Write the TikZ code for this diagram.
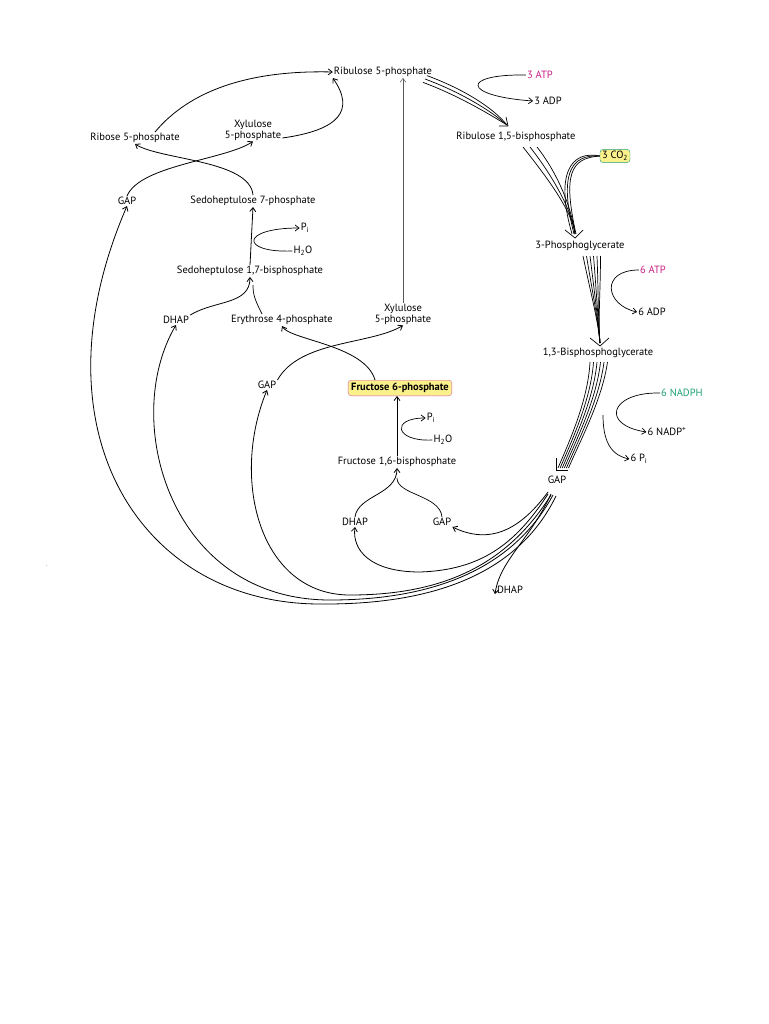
\documentclass[tikz,border=0pt]{standalone}
\usepackage{fontspec}
\setmainfont{PT Sans}
\usetikzlibrary{arrows.meta}
\definecolor{mag}{RGB}{200,30,130}
\definecolor{grn}{RGB}{30,160,120}
\definecolor{boxy}{RGB}{250,240,140}
\begin{document}
\begin{tikzpicture}[x=1pt,y=-1pt,
  lbl/.style={font=\fontsize{10.5}{11}\selectfont,inner sep=1pt,align=center},
  ar/.style={-{Straight Barb[length=4pt,width=6pt]},line width=0.8pt},
  ln/.style={line width=0.7pt},
  big/.style={line width=0.7pt}]
\useasboundingbox (0,0) rectangle (768,1024);
% labels
\node[lbl] (r5p) at (383,72) {Ribulose 5-phosphate};
\node[lbl,text=mag] (atp3) at (540,75) {3 ATP};
\node[lbl] (adp3) at (548,101) {3 ADP};
\node[lbl] (rbp) at (516,137) {Ribulose 1,5-bisphosphate};
\node[lbl,fill=boxy,draw=grn,rounded corners=3pt,inner sep=2pt] (co2) at (615,156) {3 CO\textsubscript{2}};
\node[lbl] (pga) at (580,246) {3-Phosphoglycerate};
\node[lbl,text=mag] (atp6) at (653,270) {6 ATP};
\node[lbl] (adp6) at (652,312) {6 ADP};
\node[lbl] (bpg) at (598,353) {1,3-Bisphosphoglycerate};
\node[lbl,text=grn] (nadph) at (682,393) {6 NADPH};
\node[lbl] (nadp) at (667,432) {6 NADP\textsuperscript{+}};
\node[lbl] (pi6) at (639,459) {6 P\textsubscript{i}};
\node[lbl] (gapR) at (557,480) {GAP};
\node[lbl] (dhapB) at (510,590) {DHAP};
\node[lbl] (rib5) at (135,138) {Ribose 5-phosphate};
\node[lbl] (xyl1) at (253,130) {Xylulose\\5-phosphate};
\node[lbl] (gap1) at (127,201) {GAP};
\node[lbl] (s7p) at (253,201) {Sedoheptulose 7-phosphate};
\node[lbl] (pi1) at (305,228) {P\textsubscript{i}};
\node[lbl] (h2o1) at (303,251) {H\textsubscript{2}O};
\node[lbl] (sbp) at (250,271) {Sedoheptulose 1,7-bisphosphate};
\node[lbl] (dhap1) at (176,320) {DHAP};
\node[lbl] (e4p) at (282,320) {Erythrose 4-phosphate};
\node[lbl] (xyl2) at (403,314) {Xylulose\\5-phosphate};
\node[lbl] (gap2) at (267,385) {GAP};
\node[lbl,fill=boxy,draw=mag!70,rounded corners=3pt,inner sep=3pt,font=\fontsize{10.5}{11}\bfseries] (f6p) at (400,388) {Fructose 6-phosphate};
\node[lbl] (pi2) at (431,418) {P\textsubscript{i}};
\node[lbl] (h2o2) at (443,440) {H\textsubscript{2}O};
\node[lbl] (fbp) at (397,462) {Fructose 1,6-bisphosphate};
\node[lbl] (dhap2) at (355,522) {DHAP};
\node[lbl] (gap3) at (442,522) {GAP};
\node[font=\tiny] (dot) at (47,566) {.};
% thin vertical
\draw[ar,line width=0.5pt,gray!70!black] (xyl2.north) -- (xyl2.north |- r5p.south);
% upper left
\draw[ar] (rib5.north) ++(20,0) .. controls (190,90) and (250,70) .. (r5p.west);
\draw[ar] (xyl1.east) ++(0,8) .. controls (340,130) and (355,110) .. (r5p.south west);
\draw[ar] (gap1.north) .. controls (140,165) and (225,160) .. (xyl1.south);
\draw[ar] (s7p.north) .. controls (250,160) and (160,160) .. (rib5.south);
\draw[ar] (sbp.north) -- (s7p.south);
\draw[ln,-{Straight Barb[length=4pt,width=6pt]}] (h2o1.west) .. controls (240,253) and (240,228) .. (pi1.west);
\draw[ar] (dhap1.north east) .. controls (215,300) and (250,305) .. (sbp.south);
\draw[ln] (e4p.north) ++(-20,0) .. controls (255,300) and (253,295) .. (253,285);
% F6P crossing
\draw[ar] (f6p.north) ++(-25,0) .. controls (365,345) and (290,340) .. (e4p.south);
\draw[ar] (gap2.north east) .. controls (300,340) and (370,345) .. (xyl2.south);
\draw[ar] (fbp.north) -- (fbp.north |- f6p.south);
\draw[ln,-{Straight Barb[length=4pt,width=6pt]}] (h2o2.west) .. controls (395,442) and (390,418) .. (pi2.west);
\draw[ar] (dhap2.north) .. controls (358,495) and (397,495) .. (fbp.south);
\draw[ln] (gap3.north) .. controls (440,495) and (397,495) .. (397,478);
% bundle r5p -> rbp
\foreach \o in {-4,0,4}
  \draw[big] (425+\o*0.5,79-\o*0.85) .. controls (460+\o*0.5,92-\o*0.85) and (490+\o*0.5,110-\o*0.85) .. (507,125);
\draw[big] (499,126) -- (508,126) -- (506,117);
\draw[ln,-{Straight Barb[length=4pt,width=6pt]}] (atp3.west) .. controls (460,74) and (462,96) .. (adp3.west);
% bundle rbp -> pga
\foreach \s in {0,7,14}
  \draw[big] (523+\s,147) .. controls (545+\s,175) and (572,210) .. (575,234);
\foreach \s in {0,4,8}
  \draw[big] (co2.west) .. controls (570,150+\s) and (555+\s,175) .. (572+\s*0.5,234);
\draw[big] (565,230) -- (575,238) -- (583,230);
% bundle pga -> bpg
\foreach \s in {0,3.5,7,10.5,14,17.5}
  \draw[big] (583+\s,256) .. controls (590+\s*0.6,290) and (598,320) .. (600,343);
\draw[big] (590,338) -- (600,346) -- (609,338);
\draw[ln,-{Straight Barb[length=4pt,width=6pt]}] (atp6.west) .. controls (600,270) and (605,305) .. (adp6.west);
% bundle bpg -> gapR
\foreach \s in {0,3.5,7,10.5,14,17.5}
  \draw[big] (590+\s,362) .. controls (588+\s*0.8,400) and (570+\s*0.6,440) .. (558+\s*0.6,468);
\draw[big] (556,458) -- (556,470) -- (568,470);
\draw[ln,-{Straight Barb[length=4pt,width=6pt]}] (nadph.west) .. controls (610,392) and (600,425) .. (nadp.west);
\draw[ln,-{Straight Barb[length=4pt,width=6pt]}] (603,415) .. controls (603,440) and (610,455) .. (pi6.west);
% outgoing GAP bundle
\draw[ar] (548,492) .. controls (520,530) and (490,545) .. (gap3.south east);
\draw[ar] (548,494) .. controls (515,545) and (480,570) .. (420,572) .. controls (370,572) and (352,550) .. (dhap2.south);
\draw[ar] (551,494) .. controls (530,540) and (500,560) .. (495,594);
\draw[ar] (551,495) .. controls (510,560) and (450,595) .. (350,595) .. controls (260,595) and (230,480) .. (gap2.south);
\draw[ar] (553,495) .. controls (515,565) and (440,600) .. (330,600) .. controls (170,600) and (120,420) .. (dhap1.south);
\draw[ar] (556,496) .. controls (520,570) and (440,605) .. (320,604) .. controls (140,604) and (30,430) .. (gap1.south);
\end{tikzpicture}
\end{document}
